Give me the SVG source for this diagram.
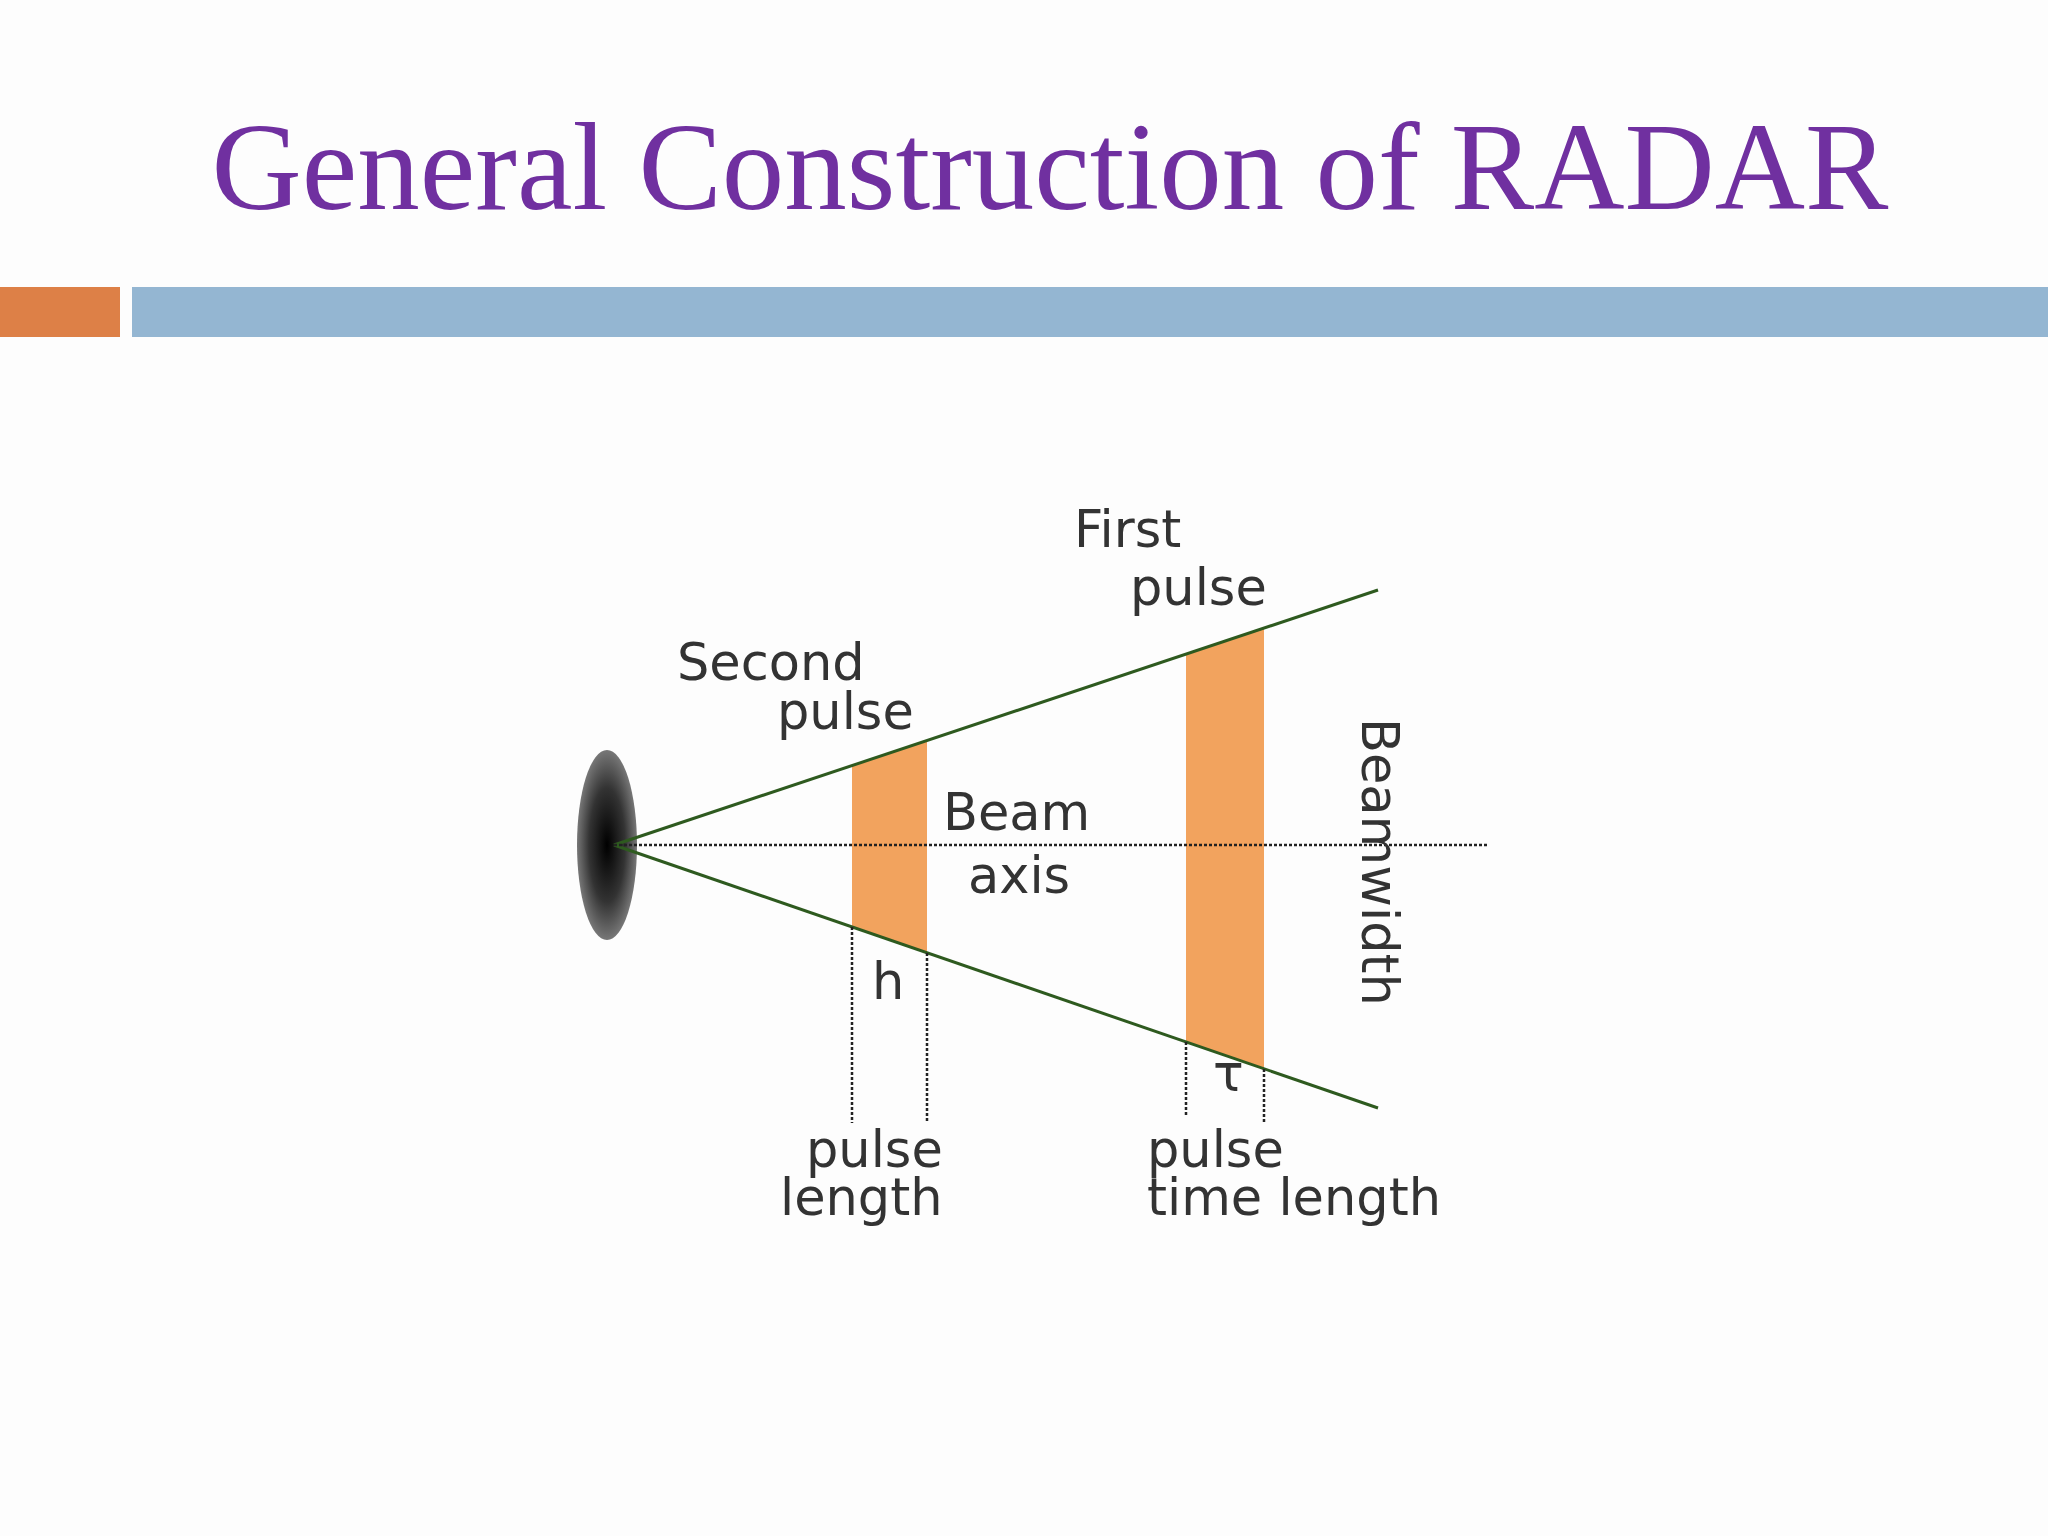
<svg xmlns="http://www.w3.org/2000/svg" width="2048" height="1536" viewBox="0 0 2048 1536">
<defs>
<radialGradient id="g" cx="0.5" cy="0.5" r="0.5"><stop offset="0" stop-color="#000"/><stop offset="0.6" stop-color="#333"/><stop offset="1" stop-color="#777"/></radialGradient>
<style>
.t{font-family:"DejaVu Sans",sans-serif;font-size:51px;fill:#333}
.b{stroke:#2e5a1f;stroke-width:3;fill:none}
.d{stroke:#222;stroke-width:2.5;stroke-dasharray:3 2;fill:none}
.p{fill:#F2A35E}
</style>
</defs>
<rect width="2048" height="1536" fill="#fdfdfd"/>
<text x="1050" y="209" text-anchor="middle" font-family="Liberation Serif,serif" font-size="125" fill="#7030A0">General Construction of RADAR</text>
<rect x="0" y="287" width="120" height="50" fill="#DD8047"/>
<rect x="132" y="287" width="1916" height="50" fill="#94B6D2"/>
<g id="pulse2"><polygon class="p" points="852,765.6 927,740.5 927,952.7 852,926.9"/></g>
<g id="pulse1"><polygon class="p" points="1186,654.1 1264,628 1264,1068.7 1186,1041.9"/></g>
<g id="antenna"><ellipse cx="607" cy="845" rx="30" ry="95" fill="url(#g)"/></g>
<g id="connectors">
<line class="b" x1="614" y1="845" x2="1378" y2="590"/>
<line class="b" x1="614" y1="845" x2="1378" y2="1108"/>
<line class="d" x1="614" y1="845" x2="1489" y2="845"/>
<line class="d" x1="852" y1="927" x2="852" y2="1123"/>
<line class="d" x1="927" y1="953" x2="927" y2="1123"/>
<line class="d" x1="1186" y1="1042" x2="1186" y2="1117"/>
<line class="d" x1="1264" y1="1069" x2="1264" y2="1123"/>
</g>
<g id="labels">
<text class="t" x="1074" y="547">First</text>
<text class="t" x="1130" y="605">pulse</text>
<text class="t" x="677" y="680">Second</text>
<text class="t" x="777" y="729">pulse</text>
<text class="t" x="943" y="830">Beam</text>
<text class="t" x="968" y="893">axis</text>
<text class="t" x="872" y="999">h</text>
<text class="t" x="1213" y="1091" font-size="38">τ</text>
<text class="t" x="806" y="1167">pulse</text>
<text class="t" x="780" y="1215">length</text>
<text class="t" x="1147" y="1167">pulse</text>
<text class="t" x="1147" y="1215">time length</text>
<text class="t" transform="translate(1362,718) rotate(90)">Beamwidth</text>
</g>
</svg>
